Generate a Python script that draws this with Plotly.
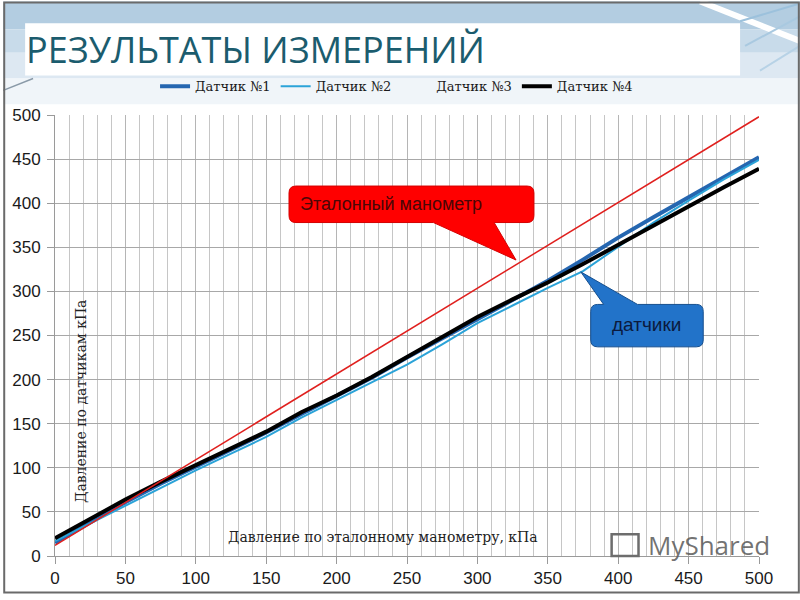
import plotly.graph_objects as go

# ---------------- data ----------------
pressure_ref = [0, 25, 50, 75, 100, 125, 150, 175, 200, 225, 250,
                275, 300, 325, 350, 375, 400, 425, 450, 475, 500]
sensor1 = [15, 38, 61, 82, 101, 120, 140, 161, 181, 202, 225,
           247, 269, 291, 312, 336, 361, 384, 407, 430, 452]
sensor2 = [17, 37, 57, 77, 97, 116, 135, 157, 177, 197, 217,
           240, 264, 284, 304, 323, 350, 378, 403, 427, 449]
sensor3 = [19, 41, 63, 83, 102, 121, 140, 162, 182, 203, 226,
           248, 270, 290, 310, 331, 353, 374, 396, 418, 439]
sensor4 = [20, 42, 64, 84, 103, 122, 141, 163, 182, 203, 226,
           248, 271, 291, 310, 331, 353, 374, 396, 418, 439]
etalon_x = [0, 500]
etalon_y = [12, 498]
series_names = ["Датчик №1", "Датчик №2", "Датчик №3", "Датчик №4"]
tick_vals = [0, 50, 100, 150, 200, 250, 300, 350, 400, 450, 500]

# ---------------- geometry helpers (layout only) ----------------
W, H = 800, 600
L, R, T, B = 52, 41, 115, 38
PW, PH = W - L - R, H - T - B


def px(x):
    return (x - L) / PW


def py(y):
    return (H - B - y) / PH


def callout_path(x0, y0, x1, y1, r, pointer, side):
    bx0, bx1, tx, ty = pointer
    P = lambda a, b: f"{px(a):.5f},{py(b):.5f}"
    d = f"M {P(x0 + r, y0)} "
    if side == "top":
        d += f"L {P(bx0, y0)} L {P(tx, ty)} L {P(bx1, y0)} "
    d += f"L {P(x1 - r, y0)} Q {P(x1, y0)} {P(x1, y0 + r)} "
    d += f"L {P(x1, y1 - r)} Q {P(x1, y1)} {P(x1 - r, y1)} "
    if side == "bottom":
        d += f"L {P(bx1, y1)} L {P(tx, ty)} L {P(bx0, y1)} "
    d += f"L {P(x0 + r, y1)} Q {P(x0, y1)} {P(x0, y1 - r)} "
    d += f"L {P(x0, y0 + r)} Q {P(x0, y0)} {P(x0 + r, y0)} Z"
    return d


fig = go.Figure()

colors = ["#2566B0", "#2BA3D8", "rgba(0,0,0,0)", "#000000"]
widths = [4, 2, 2, 4]
for name, vals, c, w in zip(series_names, [sensor1, sensor2, sensor3, sensor4], colors, widths):
    fig.add_trace(go.Scatter(x=pressure_ref, y=vals, mode="lines", name=name,
                             line=dict(color=c, width=w)))

fig.add_trace(go.Scatter(x=etalon_x, y=etalon_y, mode="lines", name="Эталонный манометр",
                         showlegend=False, line=dict(color="#E0201E", width=1.5)))

shapes = []
bands = [(0, 28, "#b3cde1"), (28, 52, "#c8dbea"), (52, 78, "#dde8f2"), (78, 104, "#f0f5f9")]
for y0, y1, c in bands:
    shapes.append(dict(type="rect", xref="paper", yref="paper", x0=px(0), x1=px(W),
                       y0=py(y1), y1=py(y0), fillcolor=c, line=dict(width=0), layer="below"))
for (xa, ya, xb, yb, c, w) in [(700, 0, 800, 40, "white", 6), (740, 20, 800, 2, "#9cc1dc", 2),
                               (745, 45, 800, 15, "#a9c9e0", 2), (760, 70, 800, 45, "#b7d2e6", 2),
                               (0, 90, 30, 78, "#8a9aa8", 1.5)]:
    shapes.append(dict(type="line", xref="paper", yref="paper", x0=px(xa), y0=py(ya),
                       x1=px(xb), y1=py(yb), line=dict(color=c, width=w), layer="below"))
shapes.append(dict(type="rect", xref="paper", yref="paper", x0=px(22), x1=px(740),
                   y0=py(75), y1=py(22), fillcolor="white", line=dict(width=0), layer="below"))
shapes.append(dict(type="rect", xref="paper", yref="paper", x0=px(1), x1=px(799),
                   y0=py(599), y1=py(1), line=dict(color="#6a6a6a", width=2), layer="above"))
shapes.append(dict(type="path", xref="paper", yref="paper",
                   path=callout_path(287, 187, 533, 224, 7, (432, 493, 515, 262), "bottom"),
                   fillcolor="#FF0000", line=dict(color="#D40000", width=1), layer="above"))
shapes.append(dict(type="path", xref="paper", yref="paper",
                   path=callout_path(590, 307, 703, 350, 7, (603, 637, 580, 274), "top"),
                   fillcolor="#2273C9", line=dict(color="#164F8E", width=1), layer="above"))
shapes.append(dict(type="rect", xref="paper", yref="paper", x0=px(611), x1=px(638),
                   y0=py(562), y1=py(540), line=dict(color="#6d6d6d", width=2.5), layer="above"))

annotations = [
    dict(text="РЕЗУЛЬТАТЫ ИЗМЕРЕНИЙ", xref="paper", yref="paper", x=px(21), y=py(49),
         xanchor="left", yanchor="middle", showarrow=False,
         font=dict(family="Open Sans", size=36, color="#1B5C6E")),
    dict(text="Давление по датчикам кПа", xref="paper", yref="paper", x=px(78), y=py(405),
         textangle=-90, xanchor="center", yanchor="middle", showarrow=False,
         font=dict(family="DejaVu Serif", size=14, color="#222222")),
    dict(text="Давление по эталонному манометру, кПа", xref="paper", yref="paper",
         x=px(381), y=py(543), xanchor="center", yanchor="middle", showarrow=False,
         font=dict(family="DejaVu Serif", size=14, color="#222222")),
    dict(text="Эталонный манометр", xref="paper", yref="paper", x=px(296), y=py(205),
         xanchor="left", yanchor="middle", showarrow=False,
         font=dict(family="Liberation Sans", size=18, color="#4A0606")),
    dict(text="датчики", xref="paper", yref="paper", x=px(646), y=py(327),
         xanchor="center", yanchor="middle", showarrow=False,
         font=dict(family="Liberation Sans", size=19, color="#0B1A3D")),
    dict(text="MyShared", xref="paper", yref="paper", x=px(646), y=py(551),
         xanchor="left", yanchor="middle", showarrow=False,
         font=dict(family="Open Sans", size=26, color="rgba(90,90,90,0.85)")),
]

axis_common = dict(range=[0, 500], tickvals=tick_vals, showline=True, linecolor="#9a9a9a",
                   linewidth=1, ticks="outside", ticklen=7, tickcolor="#9a9a9a",
                   tickfont=dict(family="Liberation Sans", size=17, color="#1a1a1a"),
                   zeroline=False, fixedrange=True)

fig.update_layout(
    width=W, height=H,
    margin=dict(l=L, r=R, t=T, b=B, pad=0),
    paper_bgcolor="white", plot_bgcolor="white",
    xaxis=dict(**axis_common, showgrid=True, gridcolor="#b5b5b5",
               minor=dict(dtick=10, showgrid=True, gridcolor="#c6c6c6", ticks="")),
    yaxis=dict(**axis_common, showgrid=True, gridcolor="#a8a8a8", ticklabelstandoff=3),
    legend=dict(orientation="h", x=px(395), y=py(86), xanchor="center", yanchor="middle",
                bgcolor="rgba(0,0,0,0)", font=dict(family="DejaVu Serif", size=13, color="#1a1a1a"),
                itemwidth=30, tracegroupgap=0),
    shapes=shapes,
    annotations=annotations,
    showlegend=True,
)

fig.write_html("out.html", config={"displayModeBar": False},
               post_script="document.body.style.margin='0';")
